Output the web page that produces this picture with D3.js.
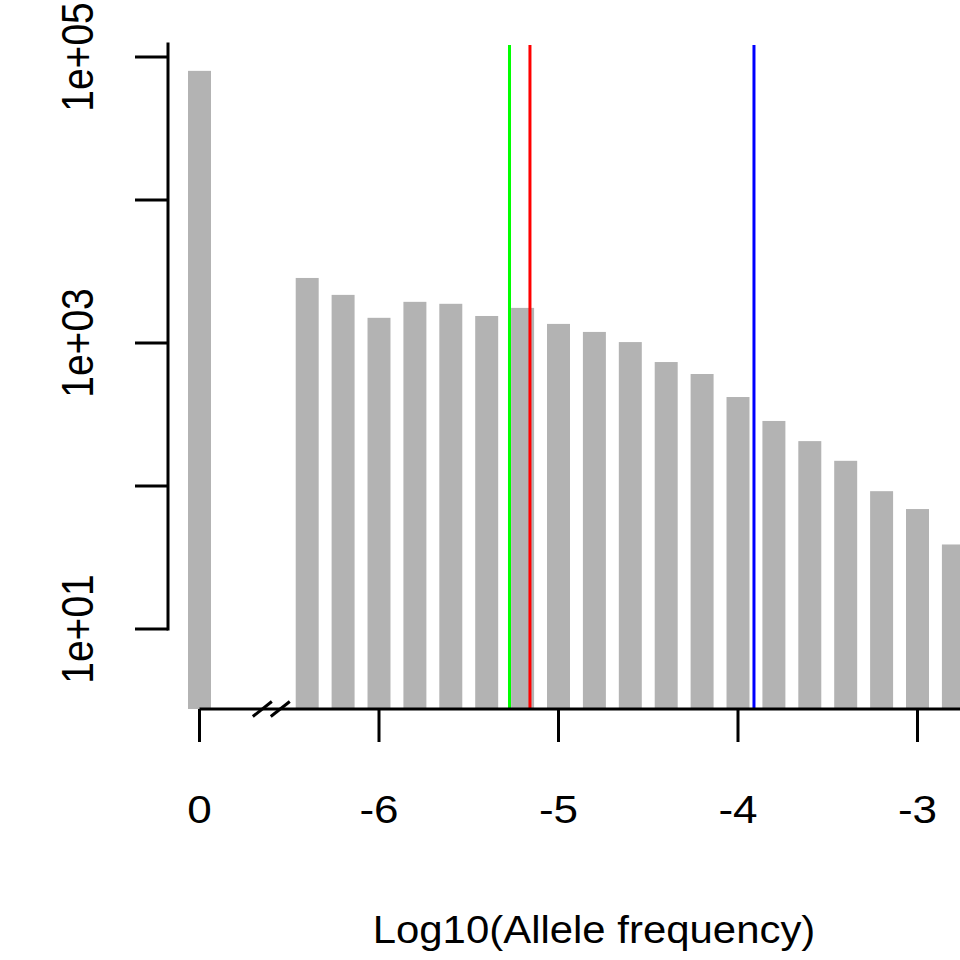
<!DOCTYPE html>
<html>
<head>
<meta charset="utf-8">
<script src="https://cdn.jsdelivr.net/npm/d3@7"></script>
<style>
  html, body { margin: 0; padding: 0; background: #ffffff; }
  svg { display: block; }
  text { font-family: "Liberation Sans", Arial, Helvetica, sans-serif; fill: #000; }
</style>
</head>
<body>
<svg id="chart" width="960" height="960"></svg>
<script>
// ---- Data ----
const zeroBin = { pos: -7, label: "0", count: 80000 };
const binCenters = [-6.4, -6.2, -6.0, -5.8, -5.6, -5.4, -5.2, -5.0, -4.8, -4.6, -4.4, -4.2, -4.0, -3.8, -3.6, -3.4, -3.2, -3.0, -2.8];
const binCounts  = [2850, 2170, 1500, 1940, 1880, 1545, 1760, 1360, 1195, 1015, 736, 607, 419, 285, 206, 150, 92, 69, 39];
const xTickValues = [-7, -6, -5, -4, -3];
const xTickLabels = ["0", "-6", "-5", "-4", "-3"];
const yTickValues = [1e1, 1e2, 1e3, 1e4, 1e5];
const yLabelValues = [1e1, 1e3, 1e5];
const yLabelTexts = ["1e+01", "1e+03", "1e+05"];
const vLineValues = [-5.273, -5.159, -3.911];
const vLineColors = ["#00ff00", "#ff0000", "#0000ff"];
const xTitle = "Log10(Allele frequency)";

// ---- Layout ----
const svg = d3.select("#chart");
const plotTop = 45, plotBottom = 709;
const sx = 1.13; // horizontal stretch of text, as in the reference
const fontSize = 39;

const x = d3.scaleLinear().domain([-7, -3]).range([199.5, 917.5]);
const y = d3.scaleLog().domain([1e1, 1e5]).range([629, 57]);
const barW = 0.128;

const bars = [{ pos: zeroBin.pos, count: zeroBin.count }]
  .concat(binCenters.map((c, i) => ({ pos: c, count: binCounts[i] })));

svg.append("g").selectAll("rect").data(bars).join("rect")
  .attr("x", d => x(d.pos - barW / 2))
  .attr("width", d => x(d.pos + barW / 2) - x(d.pos - barW / 2))
  .attr("y", d => y(d.count))
  .attr("height", d => plotBottom - y(d.count))
  .attr("fill", "#b3b3b3");

// vertical lines
svg.append("g").selectAll("line").data(vLineValues).join("line")
  .attr("x1", d => x(d)).attr("x2", d => x(d))
  .attr("y1", plotTop).attr("y2", plotBottom)
  .attr("stroke", (d, i) => vLineColors[i])
  .attr("stroke-width", 3);

// ---- Y axis ----
const yAxisX = 168;
const yg = svg.append("g").attr("stroke", "#000").attr("stroke-width", 3);
yg.append("line").attr("x1", yAxisX).attr("x2", yAxisX)
  .attr("y1", plotTop - 1).attr("y2", y(1e1)).attr("stroke-linecap", "square");
yg.selectAll("line.tick").data(yTickValues).join("line").attr("class", "tick")
  .attr("x1", yAxisX - 33).attr("x2", yAxisX)
  .attr("y1", d => y(d)).attr("y2", d => y(d));

svg.append("g").selectAll("text").data(yLabelValues).join("text")
  .attr("transform", d => `translate(93,${y(d)}) scale(${sx},1) rotate(-90)`)
  .attr("text-anchor", "middle")
  .attr("font-size", fontSize)
  .text((d, i) => yLabelTexts[i]);

// ---- X axis ----
const xg = svg.append("g").attr("stroke", "#000").attr("stroke-width", 3).attr("fill", "none");
xg.append("line").attr("x1", x(-7)).attr("x2", 960)
  .attr("y1", plotBottom).attr("y2", plotBottom);
xg.selectAll("line.tick").data(xTickValues).join("line").attr("class", "tick")
  .attr("x1", d => x(d)).attr("x2", d => x(d))
  .attr("y1", plotBottom).attr("y2", plotBottom + 33);
// axis break marks "//"
const breakPos = [-6.65, -6.55];
xg.selectAll("line.brk").data(breakPos).join("line").attr("class", "brk")
  .attr("x1", d => x(d) - 9.5).attr("x2", d => x(d) + 9.5)
  .attr("y1", plotBottom + 7.5).attr("y2", plotBottom - 7.5);

svg.append("g").selectAll("text").data(xTickValues).join("text")
  .attr("transform", d => `translate(${x(d)},823) scale(${sx},1)`)
  .attr("text-anchor", "middle")
  .attr("font-size", fontSize)
  .text((d, i) => xTickLabels[i]);

svg.append("text")
  .attr("transform", `translate(594,943) scale(1.075,1)`)
  .attr("text-anchor", "middle")
  .attr("font-size", fontSize)
  .text(xTitle);
</script>
</body>
</html>
